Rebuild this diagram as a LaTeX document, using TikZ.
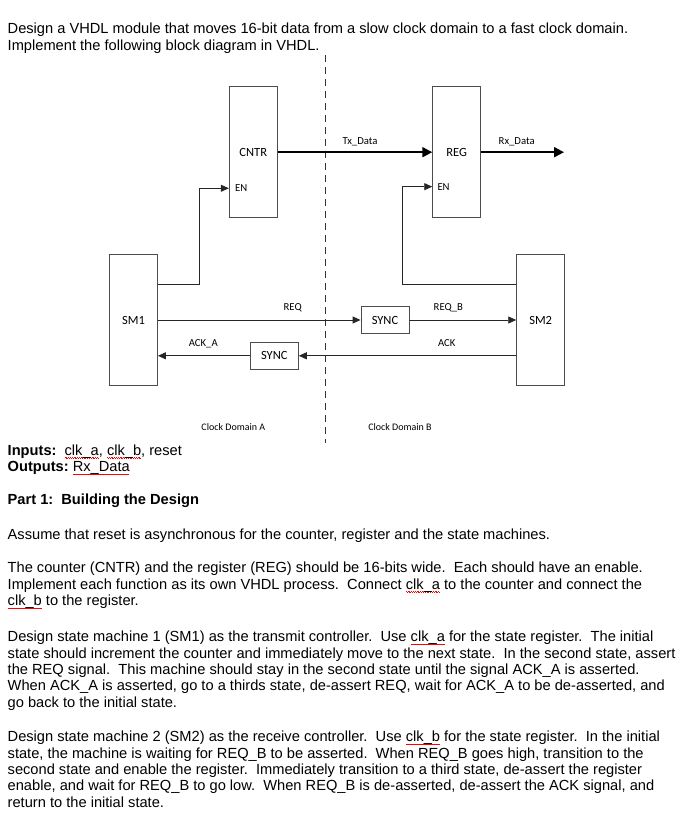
\documentclass[tikz,border=0pt]{standalone}
\usepackage{fontspec}
\setmainfont{Liberation Sans}
\newfontfamily\calibri{Carlito}
\usetikzlibrary{arrows.meta}
\frenchspacing

\newsavebox\spellbox
\newcommand\spell[1]{\sbox\spellbox{#1}\rlap{\textcolor{red}{\leaders\hbox{\rule[-2.6pt]{0.9pt}{0.6pt}\rule[-3.3pt]{0.9pt}{0.6pt}}\hskip\wd\spellbox}}\usebox\spellbox}

\begin{document}
\begin{tikzpicture}[x=1pt, y=-1pt,
    block/.style={draw=black!70, line width=0.9pt, minimum width=48pt, inner sep=0pt, font=\calibri\fontsize{12.5}{14}\selectfont},
    tall/.style={block, minimum height=131pt},
    syncbox/.style={block, minimum height=27pt},
    sig/.style={anchor=base, inner sep=0pt, font=\calibri\fontsize{10.7}{12}\selectfont},
    wire/.style={draw=black!85, line width=0.9pt, -{Triangle[length=8pt,width=7pt]}},
    bus/.style={draw=black, line width=2pt, -{Triangle[length=10pt,width=10pt]}},
    txt/.style={anchor=base west, inner sep=0pt, font=\fontsize{14.65}{16.4}\selectfont}]
    \useasboundingbox (0,0) rectangle (681,819);
    \fill[white] (0,0) rectangle (681,819);

    \node[txt] (head1) at (7.5,33.5) {Design a VHDL module that moves 16-bit data from a slow clock domain to a fast clock domain.};
    \node[txt] (head2) at (7.5,50) {Implement the following block diagram in VHDL.};

    \draw[black!80, line width=1pt, dash pattern=on 7pt off 5pt] (325.3,55) -- (325.3,443);

    \node[tall] (cntr) at (253.3,152.2) {CNTR};
    \node[tall] (reg) at (456.7,152.2) {REG};
    \node[tall] (sm1) at (133.5,320) {SM1};
    \node[tall] (sm2) at (540.7,320) {SM2};
    \node[syncbox] (syncb) at (385,320) {SYNC};
    \node[syncbox] (synca) at (274.3,355.8) {SYNC};
    \node[sig, anchor=base west] (ena) at (235,191.7) {EN};
    \node[sig, anchor=base west] (enb) at (437.3,190.1) {EN};

    \coordinate (rxend) at (564,152.2);
    \coordinate (turna) at (199.3,284);
    \coordinate (turnb) at (402.7,284);
    \draw[bus] (cntr.east) -- (reg.west);
    \draw[bus] (reg.east) -- (rxend);
    \draw[wire] (sm1.east |- turna) -- (turna) |- (cntr.west |- ena);
    \draw[wire] (sm2.west |- turnb) -- (turnb) |- (reg.west |- enb);
    \draw[wire] (sm1.east) -- (syncb.west);
    \draw[wire] (syncb.east) -- (sm2.west);
    \draw[wire] (sm2.west |- synca) -- (synca.east);
    \draw[wire] (synca.west) -- (sm1.east |- synca);

    \node[sig] (txlbl) at (360,144.1) {Tx\_Data};
    \node[sig] (rxlbl) at (516.7,144.1) {Rx\_Data};
    \node[sig] (reqlbl) at (292.7,310.1) {REQ};
    \node[sig] (reqblbl) at (448.3,310.1) {REQ\_B};
    \node[sig] (ackalbl) at (203.3,346.1) {ACK\_A};
    \node[sig] (acklbl) at (446.7,346.1) {ACK};
    \node[sig, font=\calibri\fontsize{10}{12}\selectfont] (doma) at (233.3,430) {Clock Domain A};
    \node[sig, font=\calibri\fontsize{10}{12}\selectfont] (domb) at (400,430) {Clock Domain B};

    \node[txt] (inputs) at (7.5,455.3) {\textbf{Inputs:}~ \spell{clk\_a}, \spell{clk\_b}, reset};
    \node[txt] (outputs) at (7.5,471.7) {\textbf{Outputs:} \spell{Rx\_Data}};
    \node[txt] (part) at (7.5,504) {\textbf{Part 1:~ Building the Design}};
    \node[txt] (assume) at (7.5,539) {Assume that reset is asynchronous for the counter, register and the state machines.};
    \node[txt] (cnt1) at (7.5,572.7) {The counter (CNTR) and the register (REG) should be 16-bits wide.~ Each should have an enable.};
    \node[txt] (cnt2) at (7.5,589) {Implement each function as its own VHDL process.~ Connect \spell{clk\_a} to the counter and connect the};
    \node[txt] (cnt3) at (7.5,605.7) {\spell{clk\_b} to the register.};
    \node[txt] (sma1) at (7.5,641.7) {Design state machine 1 (SM1) as the transmit controller.~ Use \spell{clk\_a} for the state register.~ The initial};
    \node[txt] (sma2) at (7.5,658.3) {state should increment the counter and immediately move to the next state.~ In the second state, assert};
    \node[txt] (sma3) at (7.5,674.5) {the REQ signal.~ This machine should stay in the second state until the signal ACK\_A is asserted.};
    \node[txt] (sma4) at (7.5,690.8) {When ACK\_A is asserted, go to a thirds state, de-assert REQ, wait for ACK\_A to be de-asserted, and};
    \node[txt] (sma5) at (7.5,707.2) {go back to the initial state.};
    \node[txt] (smb1) at (7.5,741.7) {Design state machine 2 (SM2) as the receive controller.~ Use \spell{clk\_b} for the state register.~ In the initial};
    \node[txt] (smb2) at (7.5,758) {state, the machine is waiting for REQ\_B to be asserted.~ When REQ\_B goes high, transition to the};
    \node[txt] (smb3) at (7.5,774.4) {second state and enable the register.~ Immediately transition to a third state, de-assert the register};
    \node[txt] (smb4) at (7.5,790.8) {enable, and wait for REQ\_B to go low.~ When REQ\_B is de-asserted, de-assert the ACK signal, and};
    \node[txt] (smb5) at (7.5,807.2) {return to the initial state.};
\end{tikzpicture}
\end{document}
